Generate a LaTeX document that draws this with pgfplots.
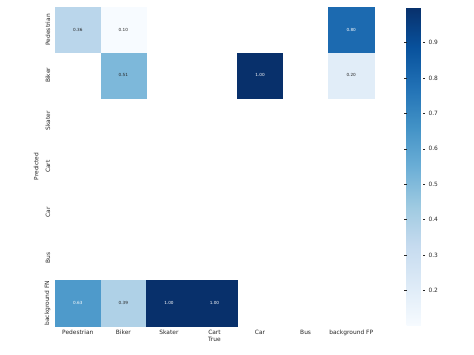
\documentclass[border=0pt]{standalone}
\usepackage{pgfplots}
\pgfplotsset{compat=1.18}
\usepackage{pgfplotstable}
\usepackage{fontspec}
\setmainfont{DejaVu Sans}
\definecolor{txtdark}{HTML}{262626}
\pgfplotsset{colormap={blues}{rgb255(0)=(247,251,255) rgb255(1)=(222,235,247) rgb255(2)=(198,219,239) rgb255(3)=(158,202,225) rgb255(4)=(107,174,214) rgb255(5)=(66,146,198) rgb255(6)=(33,113,181) rgb255(7)=(8,81,156) rgb255(8)=(8,48,107)}}
\pgfplotstableread{
x y v
0 0 0.36
1 0 0.10
1 1 0.51
6 1 0.20
1 6 0.39
}\lightcells
\pgfplotstableread{
x y v
6 0 0.80
4 1 1.00
0 6 0.63
2 6 1.00
3 6 1.00
}\darkcells
\newcommand{\tk}{\fontsize{5.9}{7}\selectfont}
\begin{document}
\begin{tikzpicture}
\path[use as bounding box] (-55pt,-29pt) rectangle (419pt,326pt);
\begin{axis}[
  scale only axis, width=319pt, height=319pt,
  xmin=-0.5, xmax=6.5, ymin=-0.5, ymax=6.5, y dir=reverse,
  axis line style={draw=none},
  major tick length=0pt,
  /pgf/number format/assume math mode=true,
  xtick={0,...,6}, ytick={0,...,6},
  xticklabels={Pedestrian,Biker,Skater,Cart,Car,Bus,background FP},
  yticklabels={Pedestrian,Biker,Skater,Cart,Car,Bus,background FN},
  xticklabel style={font=\tk, text=txtdark, inner ysep=3.5pt},
  yticklabel style={font=\tk, text=txtdark, rotate=90, anchor=south, inner ysep=4.5pt},
  xlabel={True}, ylabel={Predicted},
  xlabel style={font=\tk, text=txtdark, yshift=5pt},
  ylabel style={font=\tk, text=txtdark, yshift=-2pt},
  colormap name=blues,
  point meta min=0.1, point meta max=1.0,
  colorbar,
  colorbar style={
    at={(parent axis.north east)}, anchor=north west, xshift=24pt,
    width=16pt, height=319pt,
    ytick={0.2,0.3,...,0.9},
    /pgf/number format/assume math mode=true,
    yticklabel style={font=\tk, text=txtdark, /pgf/number format/fixed, /pgf/number format/precision=1},
    axis line style={draw=none},
    major tick length=2.5pt, tick align=outside,
    major tick style={txtdark, line width=0.5pt},
  },
]
% cells
\addplot[scatter, only marks, mark=square*, mark size=22.6pt,
  point meta=explicit,
  scatter/use mapped color={draw=mapped color, fill=mapped color}]
  table[x=x, y=y, meta=v] {\lightcells};
\addplot[scatter, only marks, mark=square*, mark size=22.6pt,
  point meta=explicit,
  scatter/use mapped color={draw=mapped color, fill=mapped color}]
  table[x=x, y=y, meta=v] {\darkcells};
% annotations
\addplot[only marks, mark=none, point meta=explicit,
  nodes near coords={\pgfmathprintnumber[fixed, fixed zerofill, precision=2, assume math mode=true]{\pgfplotspointmeta}},
  nodes near coords align={center},
  every node near coord/.append style={font=\fontsize{4.2}{4.2}\selectfont, text=txtdark}]
  table[x=x, y=y, meta=v] {\lightcells};
\addplot[only marks, mark=none, point meta=explicit,
  nodes near coords={\pgfmathprintnumber[fixed, fixed zerofill, precision=2, assume math mode=true]{\pgfplotspointmeta}},
  nodes near coords align={center},
  every node near coord/.append style={font=\fontsize{4.2}{4.2}\selectfont, text=white}]
  table[x=x, y=y, meta=v] {\darkcells};
\end{axis}
\end{tikzpicture}
\end{document}
